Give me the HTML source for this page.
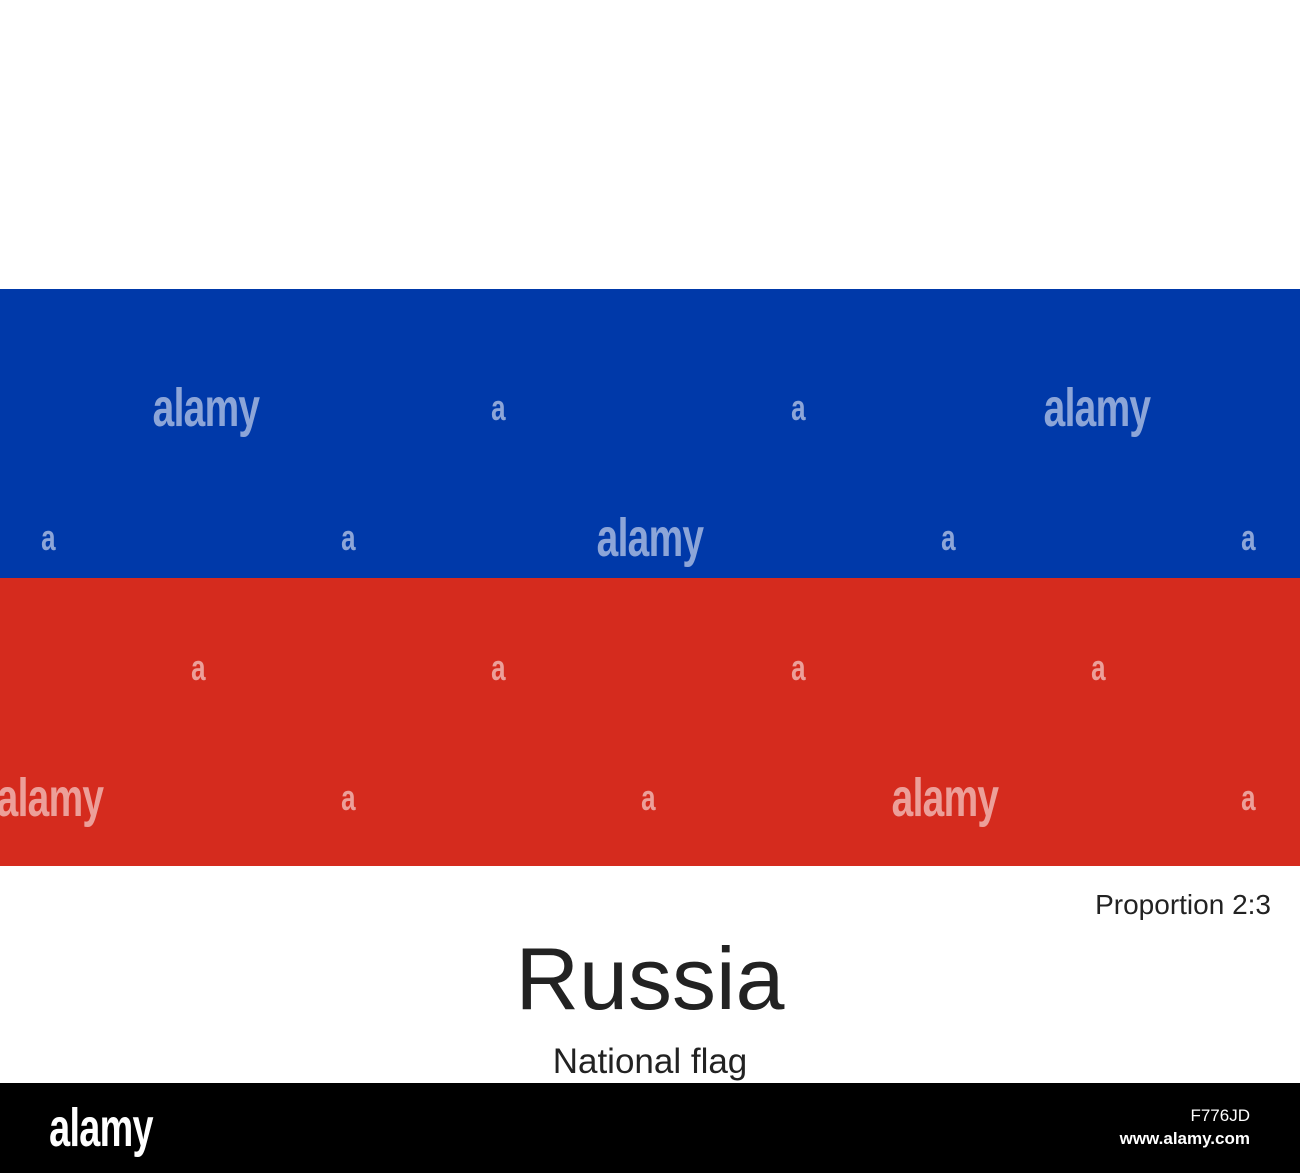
<!DOCTYPE html>
<html><head><meta charset="utf-8"><style>
body{margin:0;width:1300px;height:1173px;position:relative;overflow:hidden;background:#fff;font-family:"Liberation Sans",sans-serif}
.s{position:absolute;left:0;width:1300px}
.w{position:absolute;color:rgba(255,255,255,0.55);font-weight:bold;font-size:54px;line-height:1;transform:translate(-50%,-50%) scaleX(0.72);white-space:nowrap;letter-spacing:-1px}
.t{position:absolute;color:#222;white-space:nowrap;line-height:1}
</style></head><body>
<div class="s" style="top:0;height:289px;background:#fff"></div>
<div class="s" style="top:289px;height:289px;background:#0039a9"></div>
<div class="s" style="top:578px;height:288px;background:#d52b1e"></div>

<div class="w" style="left:206px;top:408px">alamy</div>
<div class="w" style="left:1097px;top:408px">alamy</div>
<div class="w" style="left:650px;top:538px">alamy</div>
<div class="w" style="left:498px;top:408px;font-size:36px">a</div>
<div class="w" style="left:798px;top:408px;font-size:36px">a</div>
<div class="w" style="left:48px;top:538px;font-size:36px">a</div>
<div class="w" style="left:348px;top:538px;font-size:36px">a</div>
<div class="w" style="left:948px;top:538px;font-size:36px">a</div>
<div class="w" style="left:1248px;top:538px;font-size:36px">a</div>
<div class="w" style="left:198px;top:668px;font-size:36px">a</div>
<div class="w" style="left:498px;top:668px;font-size:36px">a</div>
<div class="w" style="left:798px;top:668px;font-size:36px">a</div>
<div class="w" style="left:1098px;top:668px;font-size:36px">a</div>
<div class="w" style="left:50px;top:798px">alamy</div>
<div class="w" style="left:945px;top:798px">alamy</div>
<div class="w" style="left:348px;top:798px;font-size:36px">a</div>
<div class="w" style="left:648px;top:798px;font-size:36px">a</div>
<div class="w" style="left:1248px;top:798px;font-size:36px">a</div>

<div class="t" style="right:29px;top:891px;font-size:28px">Proportion 2:3</div>
<div class="t" style="left:0;width:1300px;text-align:center;top:935px;font-size:88px">Russia</div>
<div class="t" style="left:0;width:1300px;text-align:center;top:1044px;font-size:35px">National flag</div>

<div class="s" style="top:1083px;height:90px;background:#000"></div>
<div class="t" style="left:101px;top:1128px;color:#fff;font-weight:bold;font-size:54px;transform:translate(-50%,-50%) scaleX(0.7);letter-spacing:-1px">alamy</div>
<div class="t" style="right:50px;top:1107px;color:#fff;font-size:17px">F776JD</div>
<div class="t" style="right:50px;top:1130px;color:#fff;font-size:17px;font-weight:bold">www.alamy.com</div>
</body></html>
